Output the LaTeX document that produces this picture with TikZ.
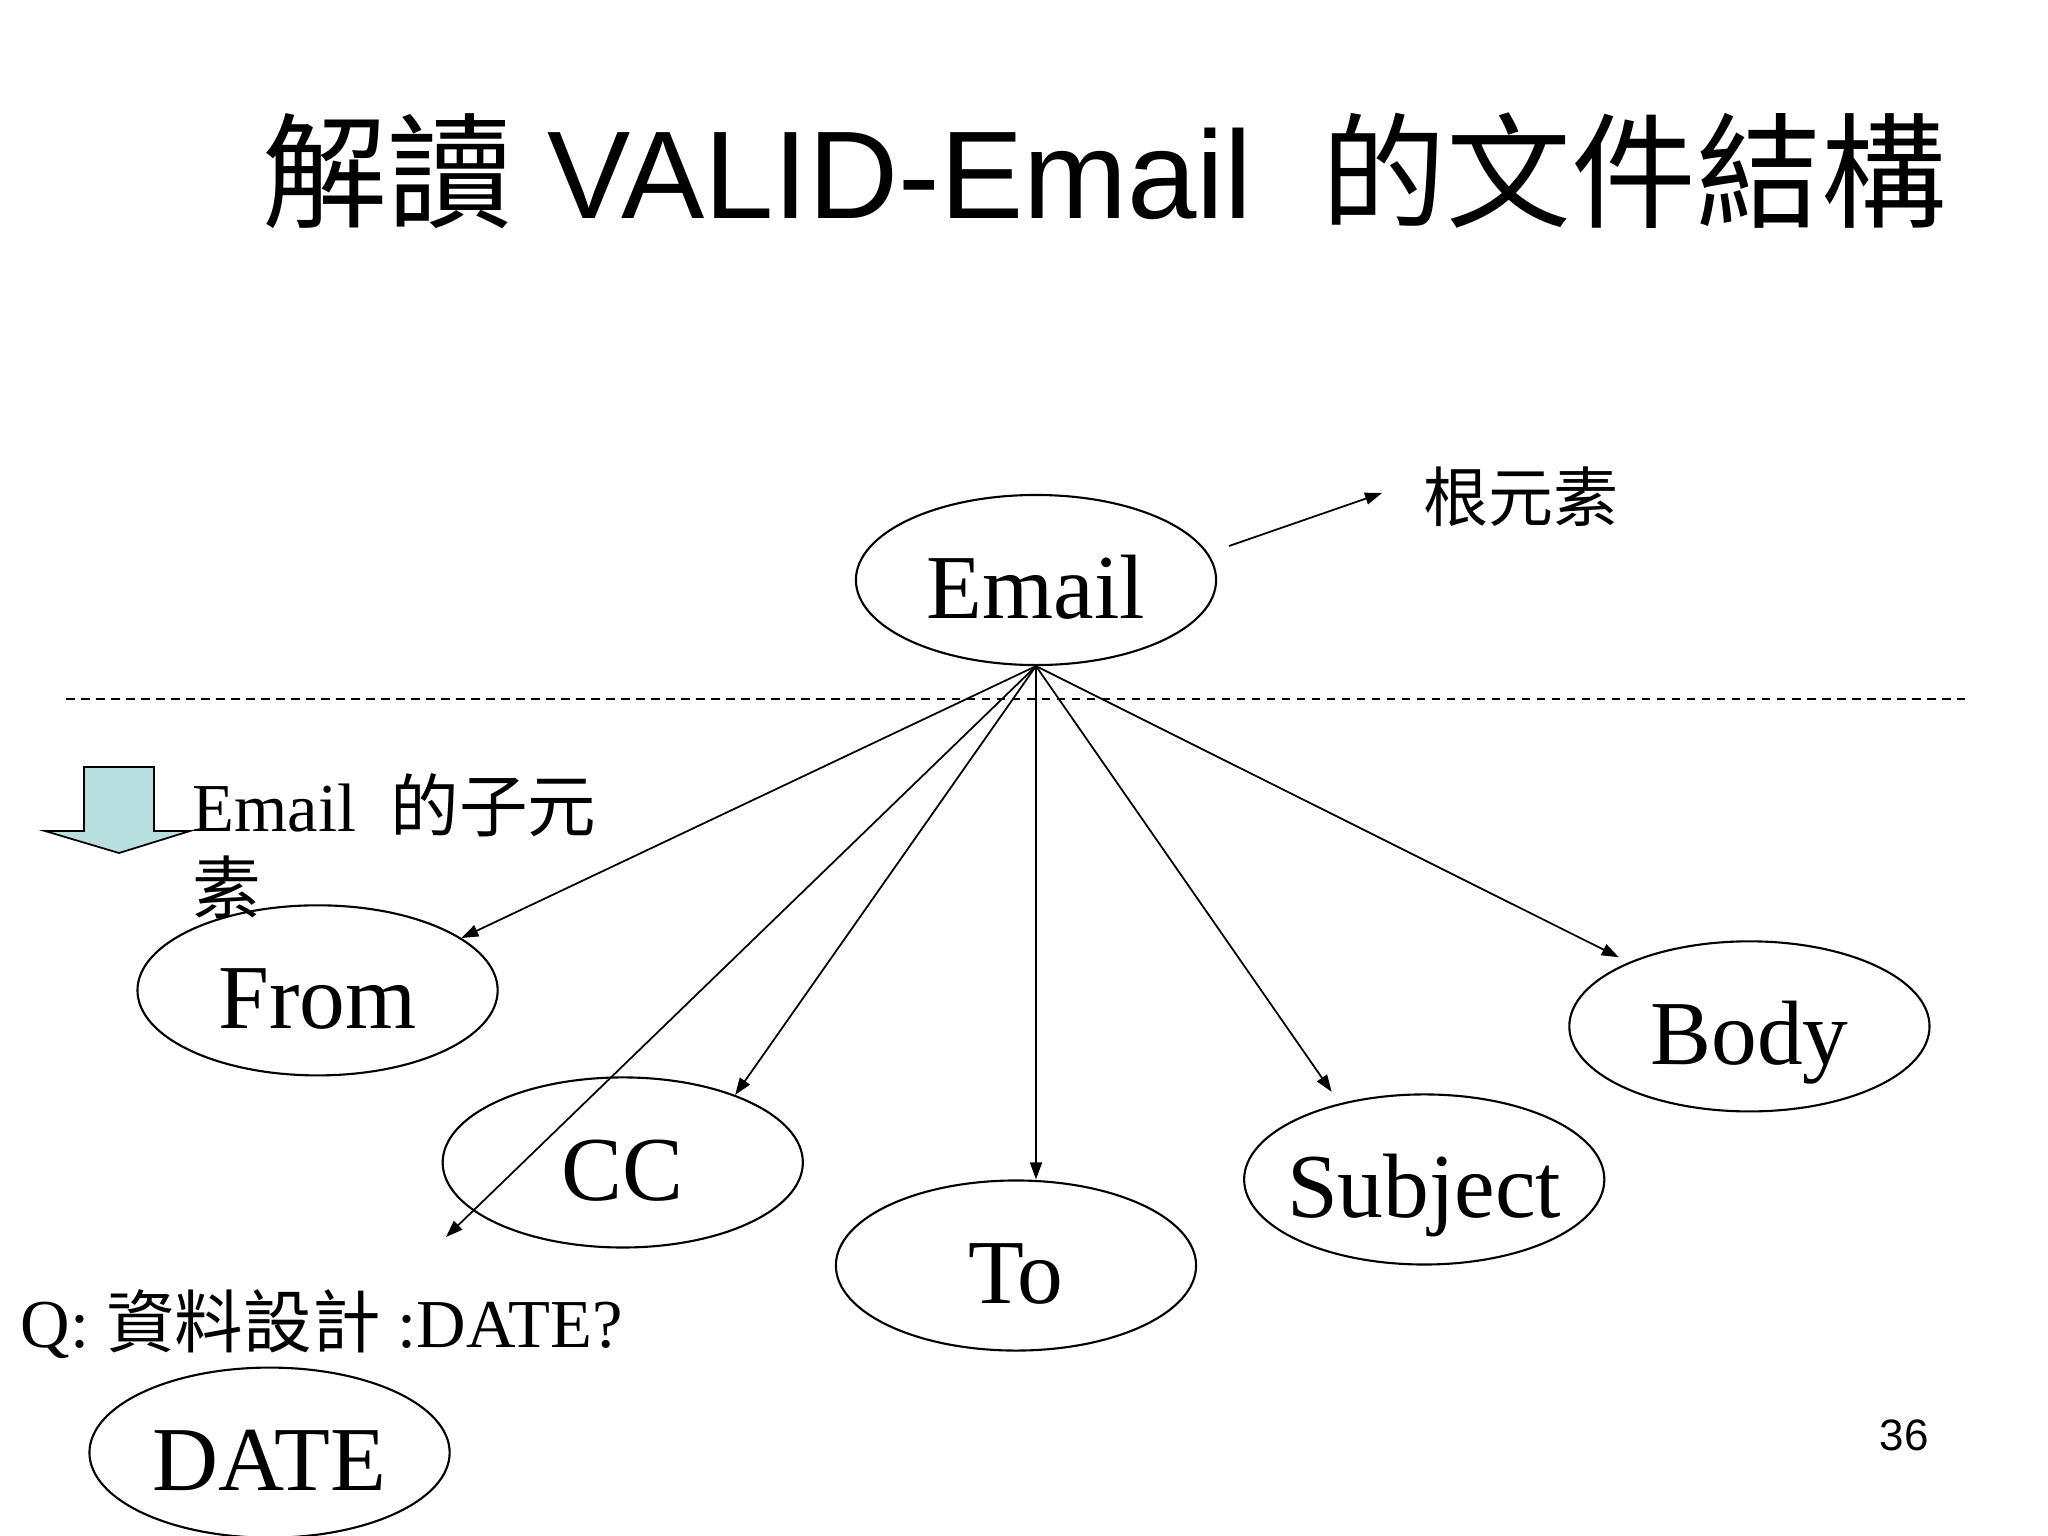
\documentclass[tikz,border=0pt]{standalone}
\usepackage{fontspec}
\setmainfont{Liberation Serif}
\newfontfamily\sans{Liberation Sans}
\newfontfamily\cjk{Noto Sans CJK TC}
\usetikzlibrary{positioning,shapes.geometric,arrows.meta}
\definecolor{arrowfill}{RGB}{185,222,224}
\tikzset{
  elem/.style={draw, ellipse, minimum width=3.6cm, minimum height=1.7cm, inner sep=-1mm, text height=0.76cm, text depth=0pt, line width=0.6pt, font=\fontsize{26}{30}\selectfont},
  arr/.style={-{Triangle[length=1.7mm,width=1.2mm]}, line width=0.5pt},
  txt/.style={inner sep=0pt, font=\fontsize{19.5}{23.3}\selectfont}
}

\begin{document}
\begin{tikzpicture}[x=0.01cm, y=-0.01cm]
  \useasboundingbox (0,0) rectangle (2048,1536);

  \node (Title) [anchor=base west, inner sep=0pt, font=\sans\fontsize{35.5}{41}\selectfont] at (262,218) {{\cjk 解讀} VALID-Email\ \ {\cjk 的文件結構}};

  \node (Email) [elem] at (1036,580) {Email};
  \node (RootLabel) [txt, anchor=west, font=\cjk\fontsize{18.5}{22}\selectfont] at (1423,497) {根元素};
  \coordinate (RootTail) at (1229,546);
  \coordinate (RootHead) at (1382,493);
  \draw [arr] (RootTail) -- (RootHead);

  \draw [dashed, dash pattern=on 0.85mm off 0.65mm, line width=0.5pt] (66,699) -- (1965,699);

  \draw [fill=arrowfill, line width=0.5pt] (84,767) -- (154,767) -- (154,831) -- (190,831) -- (119,853) -- (45,831) -- (84,831) -- cycle;
  \node (ChildLabel) [txt, anchor=north west, align=left] at (192,773) {Email\ \ {\cjk 的子元}\\{\cjk 素}};

  \node (From) [elem, below=of Email, xshift=-7.18cm, yshift=-1.38cm] {From};
  \node (CC) [elem, below=of Email, xshift=-4.13cm, yshift=-3.10cm] {CC};
  \node (To) [elem, below=of Email, xshift=-0.20cm, yshift=-4.13cm] {To};
  \node (Subject) [elem, below=of Email, xshift=3.88cm, yshift=-3.27cm] {Subject};
  \node (Body) [elem, below=of Email, xshift=7.13cm, yshift=-1.74cm] {Body};
  \node (Date) [elem, below=of Email, xshift=-7.66cm, yshift=-6.00cm] {DATE};
  \coordinate (DateTip) at (446,1237);

  \draw [arr] (Email.south) -- (From.20);
  \draw [arr] (Email.south) -- (CC.31);
  \draw [arr] (Email.south) -- (To.north -| Email.south);
  \draw [arr, shorten >=1.4mm] (Email.south) -- (Subject.138);
  \draw [arr, shorten >=1.1mm] (Email.south) -- (Body.152);
  \draw [arr] (Email.south) -- (DateTip);

  \node (Question) [txt, anchor=base west] at (20,1347) {Q: {\cjk 資料設計} :DATE?};
  \node (PageNo) [anchor=base, inner sep=0pt, font=\sans\fontsize{12.5}{14}\selectfont] at (1904,1450) {36};

\end{tikzpicture}
\end{document}
